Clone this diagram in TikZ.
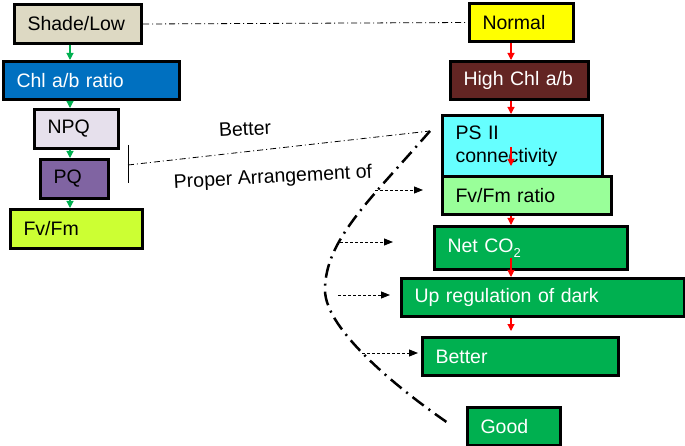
\documentclass[tikz,border=0pt]{standalone}
\usepackage{fontspec}
\setmainfont{Liberation Sans}
\usetikzlibrary{arrows.meta,calc}
\definecolor{shadeC}{HTML}{DDD9C3}
\definecolor{chlC}{HTML}{0070C0}
\definecolor{npqC}{HTML}{E6E0EC}
\definecolor{pqC}{HTML}{8064A2}
\definecolor{fvC}{HTML}{CCFF33}
\definecolor{normC}{HTML}{FFFF00}
\definecolor{highC}{HTML}{632523}
\definecolor{psC}{HTML}{66FFFF}
\definecolor{fvrC}{HTML}{99FF99}
\definecolor{grC}{HTML}{00B050}
\definecolor{arrG}{HTML}{00B050}
\definecolor{arrR}{HTML}{FF0000}
\newcommand{\subtwo}{\raisebox{-0.45ex}{\fontsize{13}{13}\selectfont 2}}
\tikzset{
  box/.style={draw=black, line width=3pt, anchor=north west, inner xsep=13pt, inner ysep=0pt,
    align=left, font=\fontsize{19.5}{23}\selectfont},
  garrow/.style={draw=arrG, line width=1.1pt, -{Triangle[length=7pt,width=7pt]}},
  rarrow/.style={draw=arrR, line width=1.1pt, -{Triangle[length=7pt,width=7pt]}},
  darrow/.style={draw=black, line width=0.9pt, dash pattern=on 3pt off 2pt, -{Triangle[length=9pt,width=7pt]}},
  thindd/.style={draw=black, line width=0.8pt, dash pattern=on 6pt off 3pt on 1pt off 3pt},
  thickdd/.style={draw=black, line width=2.5pt, dash pattern=on 14pt off 6pt on 2pt off 6pt},
  lbl/.style={font=\fontsize{19.5}{23}\selectfont, rotate=3, inner sep=0pt}
}
\begin{document}
\begin{tikzpicture}[x=1pt,y=-1pt]
\useasboundingbox (0,0) rectangle (685,446);
% left column
\node[box, fill=shadeC, minimum width=127pt, minimum height=39pt, text width=101pt] (shade) at (13,3) {Shade/Low};
\node[box, fill=chlC, text=white, minimum width=176pt, minimum height=38pt, text width=150pt] (chl) at (2,60) {Chl a/b ratio};
\node[box, fill=npqC, minimum width=84pt, minimum height=39pt, text width=58pt] (npq) at (33,108) {NPQ};
\node[box, fill=pqC, minimum width=68pt, minimum height=39pt, text width=42pt] (pq) at (39,158) {PQ};
\node[box, fill=fvC, minimum width=132pt, minimum height=39pt, text width=106pt] (fvfm) at (9,208) {Fv/Fm};
% right column
\node[box, fill=normC, minimum width=104pt, minimum height=38pt, text width=78pt] (normal) at (468,2) {Normal};
\node[box, fill=highC, text=white, minimum width=138pt, minimum height=38pt, text width=112pt] (high) at (449,60) {High Chl a/b};
\node[box, fill=psC, minimum width=160pt, minimum height=61pt, text width=134pt] (ps) at (441,114) {PS II\\connectivity};
\node[box, fill=fvrC, minimum width=169pt, minimum height=38pt, text width=143pt] (fvr) at (441,175) {Fv/Fm ratio};
\node[box, fill=grC, text=white, minimum width=193pt, minimum height=43pt, text width=167pt] (net) at (433,225) {Net CO\subtwo};
\node[box, fill=grC, text=white, minimum width=283pt, minimum height=38pt, text width=257pt] (up) at (400,277) {Up regulation of dark};
\node[box, fill=grC, text=white, minimum width=196pt, minimum height=38pt, text width=170pt] (better) at (421,336) {Better};
\node[box, fill=grC, text=white, minimum width=93pt, minimum height=38pt, text width=67pt] (good) at (466,406) {Good};
% labels
\node[lbl] (lbetter) at (245,129) {Better};
\node[lbl] (lproper) at (273,178) {Proper Arrangement of};
% green arrows
\coordinate (xg) at (70,0);
\draw[garrow] (shade.south -| xg) -- (chl.north -| xg);
\draw[garrow] (chl.south -| xg) -- (npq.north -| xg);
\draw[garrow] (npq.south -| xg) -- (pq.north -| xg);
\draw[garrow] (pq.south -| xg) -- (fvfm.north -| xg);
% red arrows
\coordinate (xr) at (511,0);
\coordinate (psin) at (511,147);
\coordinate (psout) at (511,166);
\coordinate (netin) at (511,258);
\coordinate (betend) at (511,331);
\draw[rarrow] (normal.south -| xr) -- (high.north -| xr);
\draw[rarrow] (high.south -| xr) -- (ps.north -| xr);
\draw[rarrow] (psin) -- (psout);
\draw[rarrow] (fvr.south -| xr) -- (net.north -| xr);
\draw[rarrow] (netin) -- (up.north -| xr);
\draw[rarrow] (up.south -| xr) -- (betend);
% dash-dot connectors
\draw[thindd] (shade.east) -- (normal.west);
\coordinate (bartop) at (128,145);
\coordinate (barbot) at (128,183);
\coordinate (barmid) at (128,165);
\coordinate (ctop) at (430,131);
\draw[line width=0.8pt] (bartop) -- (barbot);
\draw[thindd] (barmid) -- (ctop);
% thick curve
\coordinate (cend) at (448,423);
\draw[thickdd] (ctop) .. controls (370,200) and (325,240) .. (325,290) .. controls (325,330) and (400,390) .. (cend);
% dashed arrows
\coordinate (a1s) at (375,190); \coordinate (a1e) at (423,190);
\coordinate (a2s) at (340,242); \coordinate (a2e) at (393,242);
\coordinate (a3s) at (338,295); \coordinate (a3e) at (390,295);
\coordinate (a4s) at (362,353); \coordinate (a4e) at (418,353);
\draw[darrow] (a1s) -- (a1e);
\draw[darrow] (a2s) -- (a2e);
\draw[darrow] (a3s) -- (a3e);
\draw[darrow] (a4s) -- (a4e);
\end{tikzpicture}
\end{document}
